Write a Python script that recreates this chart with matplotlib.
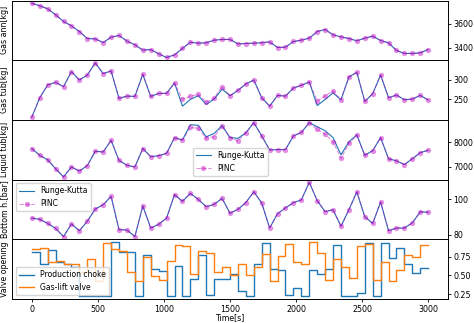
import numpy as np
import matplotlib
matplotlib.use("Agg")
import matplotlib.pyplot as plt

# sampling grid (one sample per minute)
time = np.arange(0, 3001, 60)

# PINC predictions
gas_ann_pinc = [3774, 3752, 3727, 3676, 3620, 3583, 3535, 3476, 3473, 3442,
                3487, 3502, 3454, 3423, 3378, 3383, 3347, 3316, 3338, 3392,
                3445, 3437, 3440, 3462, 3468, 3468, 3431, 3434, 3437, 3440,
                3448, 3400, 3403, 3451, 3462, 3479, 3535, 3552, 3507, 3490,
                3476, 3457, 3479, 3496, 3459, 3440, 3375, 3350, 3350, 3355,
                3383]
gas_tub_pinc = [202.6, 253.5, 286.8, 293.8, 282.4, 321.8, 299.9, 313.0, 344.6, 316.6,
                323.6, 251.7, 257.8, 256.9, 314.8, 256.9, 264.8, 264.8, 292.0, 249.9,
                256.9, 263.0, 242.0, 252.6, 282.4, 258.7, 272.7, 289.4, 299.9, 253.5,
                231.5, 259.6, 257.8, 278.9, 285.9, 294.7, 244.7, 258.7, 271.0, 248.2,
                307.8, 320.1, 243.8, 264.0, 313.0, 253.5, 260.5, 248.2, 249.9, 259.6,
                247.3]
liq_tub_pinc = [7735, 7457, 7276, 6915, 6582, 6985, 6818, 7040, 7624, 7596,
                8068, 7249, 7054, 6985, 7735, 7402, 7443, 7540, 8179, 8082,
                8596, 8554, 8151, 8221, 8638, 8179, 8040, 8374, 8790, 8249,
                7679, 7693, 7693, 8249, 8388, 8790, 8513, 8318, 8013, 7346,
                7943, 8290, 7457, 7651, 8179, 7319, 7235, 7082, 7319, 7568,
                7665]
p_bh_pinc = [89.3, 88.6, 86.3, 83.5, 78.9, 86.0, 82.2, 87.5, 94.4, 96.8,
             101.5, 82.8, 82.6, 78.9, 96.1, 83.7, 85.8, 89.3, 102.5, 98.7,
             103.2, 99.8, 95.7, 97.0, 100.4, 92.0, 94.2, 98.0, 104.1, 97.8,
             83.7, 91.8, 95.0, 98.0, 99.5, 109.4, 99.1, 92.9, 94.0, 84.7,
             94.0, 104.0, 90.1, 86.3, 98.3, 82.2, 83.7, 83.7, 86.6, 92.8,
             92.6]

# Runge-Kutta reference solution
gas_ann_rk = list(gas_ann_pinc)
gas_tub_rk = [202.6, 253.5, 286.8, 293.8, 282.4, 321.8, 299.9, 313.0, 344.6, 316.6,
              323.6, 251.7, 257.8, 256.9, 314.8, 256.9, 264.8, 264.8, 292.0, 231.5,
              249.0, 259.0, 236.0, 250.0, 276.0, 258.7, 272.7, 289.4, 299.9, 253.5,
              231.5, 259.6, 257.8, 278.9, 285.9, 294.7, 233.0, 249.0, 266.0, 248.2,
              307.8, 320.1, 243.8, 264.0, 313.0, 253.5, 260.5, 248.2, 249.9, 259.6,
              247.3]
liq_tub_rk = [7735, 7457, 7276, 6915, 6582, 6985, 6818, 7040, 7624, 7596,
              8068, 7249, 7054, 6985, 7735, 7402, 7443, 7540, 8179, 8082,
              8707, 8680, 8210, 8350, 8670, 8179, 8150, 8374, 8790, 8249,
              7679, 7693, 7693, 8249, 8388, 8790, 8620, 8460, 8180, 7480,
              8010, 8290, 7457, 7651, 8179, 7319, 7235, 7082, 7319, 7568,
              7665]
p_bh_rk = list(p_bh_pinc)

# valve openings, held constant over each minute (last value repeated at t=3000)
choke = [0.81, 0.65, 0.84, 0.68, 0.65, 0.61, 0.22, 0.22, 0.22, 0.22,
         0.95, 0.81, 0.81, 0.22, 0.77, 0.59, 0.56, 0.22, 0.63, 0.22,
         0.45, 0.77, 0.24, 0.45, 0.45, 0.52, 0.29, 0.22, 0.66, 0.94,
         0.59, 0.58, 0.24, 0.33, 0.22, 0.57, 0.52, 0.59, 0.91, 0.22,
         0.23, 0.27, 0.94, 0.22, 0.94, 0.74, 0.87, 0.66, 0.53, 0.60,
         0.60]
gaslift = [0.86, 0.87, 0.68, 0.69, 0.65, 0.65, 0.55, 0.72, 0.42, 0.94,
           0.85, 0.83, 0.55, 0.42, 0.75, 0.49, 0.44, 0.70, 0.91, 0.89,
           0.52, 0.83, 0.80, 0.55, 0.62, 0.50, 0.66, 0.51, 0.61, 0.79,
           0.42, 0.76, 0.92, 0.68, 0.66, 0.95, 0.80, 0.44, 0.72, 0.62,
           0.47, 0.89, 0.92, 0.44, 0.68, 0.42, 0.58, 0.77, 0.75, 0.91,
           0.91]

plt.rcParams['font.size'] = 5.7

fig, axes = plt.subplots(5, 1, sharex=True, figsize=(4.74, 3.23), dpi=100)
fig.subplots_adjust(left=12 / 474, right=448 / 474, top=1 - 0.5 / 323,
                    bottom=1 - 299 / 323, hspace=0)

states = [(gas_ann_rk, gas_ann_pinc, 'Gas ann[kg]'),
          (gas_tub_rk, gas_tub_pinc, 'Gas tub[kg]'),
          (liq_tub_rk, liq_tub_pinc, 'Liquid tub[kg]'),
          (p_bh_rk, p_bh_pinc, 'Bottom h.[bar]')]

for ax, (rk, pinc, lab) in zip(axes[:4], states):
    ax.plot(time, rk, color='C0', lw=0.8, label='Runge-Kutta')
    ax.plot(time, pinc, '--o', color='m', alpha=0.45, lw=0.8, ms=3.8,
            mew=0, label='PINC')
    ax.set_ylabel(lab, labelpad=2)

axes[0].set_yticks([3400, 3600])
axes[1].set_yticks([250, 300])
axes[2].set_yticks([7000, 8000])
axes[3].set_yticks([80, 100])

axes[2].legend(loc='lower center', fontsize=5.5)
axes[3].legend(loc='upper left', fontsize=5.5)

ax = axes[4]
ax.plot(time, choke, drawstyle='steps-post', color='C0', lw=1.0,
        label='Production choke')
ax.plot(time, gaslift, drawstyle='steps-post', color='C1', lw=1.0,
        label='Gas-lift valve')
ax.set_ylabel('Valve opening', labelpad=2)
ax.set_yticks([0.25, 0.50, 0.75])
ax.legend(loc='lower left', fontsize=5.5)
ax.set_xlabel('Time[s]', labelpad=0)
ax.set_xticks([0, 500, 1000, 1500, 2000, 2500, 3000])

for a in axes:
    a.yaxis.tick_right()
    a.tick_params(length=2.5, width=0.6, pad=1.5)
    for s in a.spines.values():
        s.set_linewidth(0.7)

fig.savefig('out.png', dpi=100)
